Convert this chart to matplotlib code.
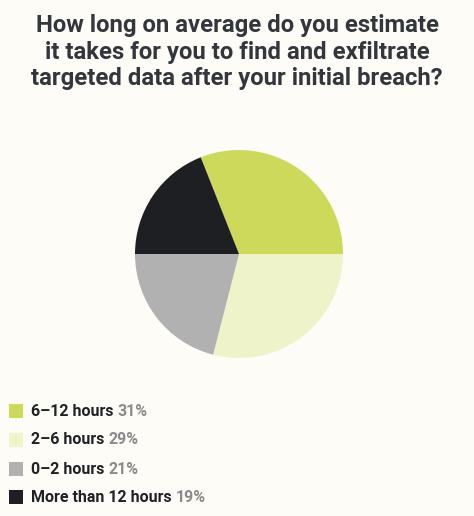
import matplotlib
matplotlib.use('Agg')
from matplotlib import pyplot as plt

# survey answers, in legend order
labels = ['6\u201312 hours', '2\u20136 hours', '0\u20132 hours', 'More than 12 hours']
shares = [31, 29, 21, 19]
colors = ['#cdd95b', '#eff3c9', '#b1b1b1', '#1d1f23']

title = ('How long on average do you estimate\n'
         'it takes for you to find and exfiltrate\n'
         'targeted data after your initial breach?')

bg = '#fdfcf7'
W, H = 474, 516

fig = plt.figure(figsize=(W / 100, H / 100), dpi=100, facecolor=bg)

fig.text(0.5, 1 - 52 / H, title, ha='center', va='center', fontsize=17.2,
         fontweight='bold', family='Roboto', color='#33363d', linespacing=1.2)

# pie, centre ~ (239, 254) px, radius ~104 px
cx, cy, r = 239, 254, 104
ax = fig.add_axes([(cx - r) / W, (H - cy - r) / H, 2 * r / W, 2 * r / H])
ax.set_facecolor(bg)
start = 360 * shares[0] / sum(shares)
ax.pie(shares, colors=colors, startangle=start, counterclock=False,
       wedgeprops=dict(linewidth=0))
ax.set_xlim(-1, 1)
ax.set_ylim(-1, 1)
ax.set_aspect('auto')
ax.axis('off')

# legend block
lax = fig.add_axes([0, 0, 1, 1], facecolor='none')
lax.set_xlim(0, W)
lax.set_ylim(H, 0)
lax.axis('off')
rows = [411, 440, 469, 497]
for i in range(len(labels)):
    lax.scatter(16, rows[i], marker='s', s=110, color=colors[i], linewidths=0)
    t = lax.text(31, rows[i], labels[i], ha='left', va='center', fontsize=11.5,
                 fontweight='bold', family='Roboto', color='#1f2125')
    lax.annotate(f'{shares[i]}%', xy=(1, 0.5), xycoords=t, xytext=(3, 0),
                 textcoords='offset points', ha='left', va='center',
                 fontsize=11.5, fontweight='bold', family='Roboto', color='#8a8a8a')

fig.savefig('out.png', dpi=100, facecolor=bg)
